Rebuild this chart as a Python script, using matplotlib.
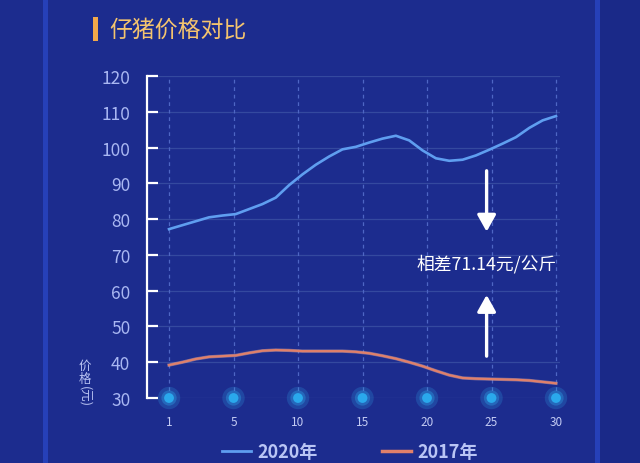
import numpy as np
import matplotlib
matplotlib.use("Agg")
import matplotlib.pyplot as plt
from matplotlib.patches import Rectangle
from matplotlib.lines import Line2D

plt.rcParams['font.family'] = ['Noto Sans CJK SC', 'DejaVu Sans']

days = list(range(1, 31))
price_2020 = [77.2, 78.3, 79.4, 80.5, 81.0, 81.4, 82.8, 84.2, 86.0, 89.5,
              92.5, 95.2, 97.5, 99.5, 100.2, 101.4, 102.5, 103.3, 102.0, 99.2,
              97.0, 96.3, 96.6, 97.8, 99.4, 101.1, 102.9, 105.5, 107.6, 108.8]
price_2017 = [39.2, 40.0, 40.9, 41.5, 41.7, 41.9, 42.6, 43.2, 43.4, 43.3,
              43.1, 43.1, 43.1, 43.1, 42.9, 42.5, 41.8, 41.0, 40.0, 38.9,
              37.6, 36.4, 35.6, 35.4, 35.3, 35.2, 35.1, 34.9, 34.5, 34.1]
x_tick_labels = ['1', '5', '10', '15', '20', '25', '30']
y_ticks = [30, 40, 50, 60, 70, 80, 90, 100, 110, 120]
series_names = ['2020年', '2017年']
title = '仔猪价格对比'
annotation = '相差71.14元/公斤'
ylabel_top = '价\n格'
ylabel_unit = '(元)'

BG = '#1c2c8e'
C2020 = '#5f9ef0'
C2017 = '#e0806a'
TICKC = '#a9b7f2'

fig = plt.figure(figsize=(6.4, 4.64), dpi=100, facecolor=BG)

# side stripes
fig.patches.append(Rectangle((43/640, 0), 5/640, 1, transform=fig.transFigure,
                             facecolor='#2640b8', edgecolor='none', zorder=0))
fig.patches.append(Rectangle((595/640, 0), 5/640, 1, transform=fig.transFigure,
                             facecolor='#2640b8', edgecolor='none', zorder=0))
fig.patches.append(Rectangle((600/640, 0), 40/640, 1, transform=fig.transFigure,
                             facecolor='#1a2988', edgecolor='none', zorder=0))

# title bar + title
fig.patches.append(Rectangle((93/640, 1 - 42/464), 5/640, 24/464, transform=fig.transFigure,
                             facecolor='#f2a94a', edgecolor='none', zorder=1))
fig.text(109/640, 1 - 30/464, title, color='#f4c46e', fontsize=16.5,
         va='center', ha='left', fontweight='medium')

ax = fig.add_axes([147/640, 1 - 399/464, 413/640, 322/464])
ax.set_facecolor('none')
ax.set_xlim(-0.65, 30.3)
ax.set_ylim(30, 120)

xt = np.linspace(days[0], days[-1], len(x_tick_labels))
ax.set_xticks(xt)
ax.set_xticklabels(x_tick_labels)
ax.set_yticks(y_ticks)

for s in ['top', 'right', 'bottom']:
    ax.spines[s].set_visible(False)
ax.spines['left'].set_color('white')
ax.spines['left'].set_linewidth(1.6)

ax.tick_params(axis='y', direction='in', length=8, width=1.6, color='white',
               labelcolor=TICKC, labelsize=12.5, pad=12)
ax.tick_params(axis='x', length=0, labelcolor='#c3cbf3', labelsize=8.5, pad=12)

# grid
for y in y_ticks:
    ax.axhline(y, color='#34499f', lw=0.9, zorder=1)
for x in xt:
    ax.axvline(x, color='#4e66c4', lw=0.9, ls=(0, (3, 3)), zorder=1)

# lines
ax.plot(days, price_2017, color='#f2b8a8', lw=2.4, alpha=0.45, zorder=3)
ax.plot(days, price_2020, color=C2020, lw=1.9, zorder=4)
ax.plot(days, price_2017, color=C2017, lw=1.6, zorder=4)

# glowing dots
ax.scatter(xt, [y_ticks[0]] * len(xt), s=260, color='#2fa8ea', alpha=0.22,
           edgecolors='none', clip_on=False, zorder=5)
ax.scatter(xt, [y_ticks[0]] * len(xt), s=120, color='#2fa8ea', alpha=0.35,
           edgecolors='none', clip_on=False, zorder=5)
ax.scatter(xt, [y_ticks[0]] * len(xt), s=50, color='#2aa8ec',
           edgecolors='none', clip_on=False, zorder=6)

# arrows and annotation
arrow_x = 24.8
arrow_kw = dict(arrowstyle='-|>,head_length=0.5,head_width=0.28', color='white', lw=2.4,
                mutation_scale=20, shrinkA=0, shrinkB=0)
ax.annotate('', xy=(arrow_x, 76.5), xytext=(arrow_x, 93.5), arrowprops=arrow_kw, zorder=7)
ax.annotate('', xy=(arrow_x, 58.8), xytext=(arrow_x, 41.7), arrowprops=arrow_kw, zorder=7)
ax.text(arrow_x, 67.8, annotation, color='white', fontsize=12.8, ha='center',
        va='center', fontweight='medium', zorder=7)

# y label
fig.text(85/640, 1 - 373/464, ylabel_top, color='#b8c2f2', fontsize=9,
         ha='center', va='center', linespacing=1.0)
fig.text(85/640, 1 - 397/464, ylabel_unit, color='#b8c2f2', fontsize=9,
         ha='center', va='center', rotation=270)

# legend
handles = [Line2D([], [], color=C2020, lw=2), Line2D([], [], color=C2017, lw=2.5)]
leg = fig.legend(handles, series_names, ncol=2, loc='center',
                 bbox_to_anchor=(350/640, 1 - 453/464), frameon=False,
                 handlelength=1.6, handletextpad=0.35, columnspacing=3.6,
                 prop={'size': 13, 'weight': 'bold'})
for t in leg.get_texts():
    t.set_color('#b9c5f5')

fig.savefig('out.png', dpi=100, facecolor=BG)
